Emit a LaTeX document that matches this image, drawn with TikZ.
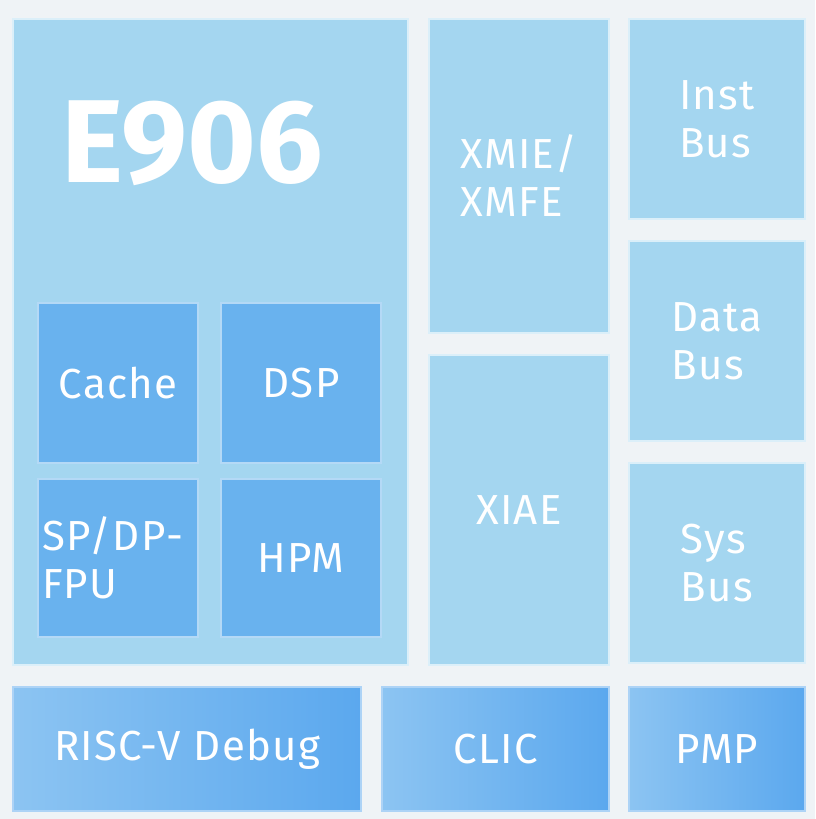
\documentclass[tikz,border=0pt]{standalone}
\usepackage{fontspec}
\setmainfont{Fira Sans}
\begin{document}
\begin{tikzpicture}[x=1pt,y=-1pt,
  lt/.style={fill=lightblue,draw=white!60!lightblue,line width=2pt},
  dk/.style={fill=midblue,draw=white!50!midblue,line width=2pt},
  bot/.style={left color=botL,right color=botR,draw=white!50!botR,line width=2pt},
  lbl/.style={text=white,font=\fontsize{42}{48}\selectfont\addfontfeatures{LetterSpace=3},align=left}]
\definecolor{bgc}{HTML}{EFF3F6}
\definecolor{lightblue}{HTML}{A4D6F0}
\definecolor{midblue}{HTML}{69B2EE}
\definecolor{botL}{HTML}{8CC4F2}
\definecolor{botR}{HTML}{5BA8EE}
\fill[bgc] (0,0) rectangle (815,819);
\useasboundingbox (0,0) rectangle (815,819);
\node[lt,minimum width=395,minimum height=646,inner sep=0,anchor=north west] (e906) at (12,18) {};
\node[text=white,font=\fontsize{118}{120}\selectfont\bfseries] (t) at (192,143) {E906};
\node[dk,minimum width=160,minimum height=160,anchor=north west,lbl] (cache) at (37,302) {Cache};
\node[dk,minimum width=160,minimum height=160,anchor=north west,lbl] (dsp) at (220,302) {DSP};
\node[dk,minimum width=160,minimum height=158,anchor=north west,lbl,inner sep=0,text width=156] (fpu) at (37,478) {\hspace*{2pt}SP/DP-\\\hspace*{2pt}FPU};
\node[dk,minimum width=160,minimum height=158,anchor=north west,lbl] (hpm) at (220,478) {HPM};
\node[lt,minimum width=180,minimum height=314,anchor=north west,lbl] (xmie) at (428,18) {XMIE/\\XMFE};
\node[lt,minimum width=180,minimum height=310,anchor=north west,lbl] (xiae) at (428,354) {XIAE};
\node[lt,minimum width=176,minimum height=200,anchor=north west,lbl] (inst) at (628,18) {Inst\\Bus};
\node[lt,minimum width=176,minimum height=200,anchor=north west,lbl] (data) at (628,240) {Data\\Bus};
\node[lt,minimum width=176,minimum height=200,anchor=north west,lbl] (sys) at (628,462) {Sys\\Bus};
\node[bot,minimum width=348,minimum height=124,anchor=north west,lbl] (dbg) at (12,686) {RISC-V Debug};
\node[bot,minimum width=227,minimum height=124,anchor=north west,lbl] (clic) at (381,686) {CLIC};
\node[bot,minimum width=176,minimum height=124,anchor=north west,lbl] (pmp) at (628,686) {PMP};
\end{tikzpicture}
\end{document}
